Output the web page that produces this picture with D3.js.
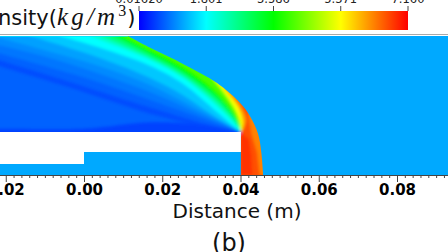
<!DOCTYPE html>
<html>
<head>
<meta charset="utf-8">
<script src="https://cdn.jsdelivr.net/npm/d3@7"></script>
<style>
  html, body { margin: 0; padding: 0; background: #fff; overflow: hidden; }
  svg { display: block; font-family: "DejaVu Sans"; }
  .xaxis path { stroke: #444; }
  .xaxis line { stroke: #444; }
  .xaxis text { font-family: "DejaVu Sans"; font-weight: bold; font-size: 15px; fill: #000; }
</style>
</head>
<body>
<svg id="chart" width="448" height="252"></svg>
<script>
// colorbar values, density in kg/m3
const barTicks = [0.0162, 1.802, 3.588, 5.374, 7.16];
const barLabels = ["0.01620", "1.801", "3.586", "5.371", "7.160"];
const barColors = ["#0000ff", "#00ffff", "#00ff00", "#ffff00", "#ff0000"];

// x axis
const xTicks = [-0.02, 0, 0.02, 0.04, 0.06, 0.08];
const xLabels = ["0.02", "0.00", "0.02", "0.04", "0.06", "0.08"];
const xMinor = [-0.022, -0.018, -0.016, -0.014, -0.012, -0.01, -0.008, -0.006, -0.004, -0.002,
  0.002, 0.004, 0.006, 0.008, 0.01, 0.012, 0.014, 0.016, 0.018,
  0.022, 0.024, 0.026, 0.028, 0.03, 0.032, 0.034, 0.036, 0.038,
  0.042, 0.044, 0.046, 0.048, 0.05, 0.052, 0.054, 0.056, 0.058,
  0.062, 0.064, 0.066, 0.068, 0.07, 0.072, 0.074, 0.076, 0.078,
  0.082, 0.084, 0.086, 0.088, 0.09, 0.092];

// field geometry, [x mm, y mm]
const corner = [40.1, 11];
const shock = [[11.2, 35.5], [16.9, 32.5], [25.3, 28.4], [34, 23.5], [39.9, 18.4], [42.4, 15.1], [44.5, 10.5], [45.3, 5.9], [45.8, 0]];
const body = [[-25, 2.8], [0, 2.8], [0, 5.9], [40.1, 5.9], [40.1, 11], [-25, 11]];
const topEdge = [[-25, 35.45], [11.2, 35.45]];

const freeStream = 1.2;
const topEdgeLevel = 1.6;
const behindShock = 6.6;
const wallLevel = 6.8;
const wallStrip = [[40.1, 11], [42.2, 9], [42.8, 5], [43, 0], [40.1, 0]];
const edgeLevel = 6.25;
const edgeStrip = [[42, 16], [42.8, 10.5], [44.2, 5.9], [44.9, 0], [47, 0], [47, 16]];

// density contours, outermost first, each one ends in the body corner
const contourLevels = [6.03, 5.37, 4.71, 4.1, 3.59, 3.1, 2.7, 2.2, 1.8, 1.41, 1.14, 0.98, 0.84, 0.7, 0.56, 0.7, 0.48];
const contours = [
  [[38, 20.8], [40.6, 16.6], [41.4, 14.1], [40.6, 11.5], [40.1, 11]],
  [[34, 25], [36, 22], [39.4, 17.4], [40.6, 13.5], [40.1, 11]],
  [[30, 27.5], [34, 23.6], [38.6, 17], [40.1, 12.8], [40.1, 11]],
  [[10, 38], [17, 35], [25.3, 30.5], [31, 26.6], [34, 23], [38.9, 15.6], [40.1, 11]],
  [[9.7, 35.8], [16.9, 32], [25.3, 27.6], [34, 21], [39.1, 14.3], [40.1, 11]],
  [[8.5, 35.5], [16.9, 31.2], [25.3, 26.6], [34, 20.2], [39.2, 13.7], [40.1, 11]],
  [[7.2, 35.5], [16.9, 30.7], [25.3, 26.1], [34, 19.4], [39.4, 13], [40.1, 11]],
  [[4.5, 35.5], [16.9, 30], [25.3, 25.4], [34, 18.5], [39.4, 12.5], [40.1, 11]],
  [[1.5, 35.5], [16.9, 29.4], [25.3, 24.8], [34, 17.6], [39.4, 12], [40.1, 11]],
  [[-6.1, 35.5], [4.1, 32.5], [16.9, 27.9], [25.3, 23.3], [34, 16.1], [39.4, 11.5], [40.1, 11]],
  [[-13.8, 35.5], [4.1, 29.9], [16.9, 24.8], [25.3, 20.4], [34, 14.6], [40.1, 11]],
  [[-25, 36], [-8.7, 31.5], [4.1, 27.8], [16.9, 23], [29.6, 16.5], [40.1, 11]],
  [[-25, 34], [-8.7, 29.9], [4.1, 25.8], [16.9, 21.2], [29.6, 15.6], [40.1, 11]],
  [[-25, 32], [-2.3, 25.6], [16.9, 19.2], [40.1, 11]],
  [[-25, 30.4], [-2.3, 23.4], [16.9, 17.3], [29.6, 13.5], [40.1, 11]],
  [[-25, 28.8], [-2.3, 21.9], [16.9, 15.6], [33.5, 11.8], [40.1, 11]],
  [[-25, 11.9], [0, 11.9], [16.9, 13.5], [29.6, 12.8], [40.1, 11]]
];

const svg = d3.select("#chart");
const plotTop = 36, plotBottom = 175;

// 0.00 sits at 84px, 0.02 m is 78.25px
const x = d3.scaleLinear().domain([0, 0.08]).range([84, 397]);
const y = d3.scaleLinear().domain([0, 0.0355]).range([plotBottom, plotBottom - 0.0355 * (313 / 0.08)]);
const color = d3.scaleLinear().domain(barTicks).range(barColors);

const line = d3.line().x(d => x(d[0] / 1000)).y(d => y(d[1] / 1000));
const smooth = d3.line().x(d => x(d[0] / 1000)).y(d => y(d[1] / 1000)).curve(d3.curveCatmullRom);

const defs = svg.append("defs");

defs.append("clipPath").attr("id", "plotClip")
  .append("rect").attr("x", 0).attr("y", plotTop).attr("width", 448).attr("height", plotBottom - plotTop);

// area behind the shock
defs.append("clipPath").attr("id", "shockClip")
  .append("path")
  .attr("d", smooth(shock) + line([[40.1, 0], corner, [-25, 11], [-25, 40], [11.2, 40]]).replace("M", "L") + "Z");

defs.append("filter").attr("id", "soft")
  .attr("x", "-10%").attr("y", "-10%").attr("width", "120%").attr("height", "120%")
  .append("feGaussianBlur").attr("stdDeviation", 1.6);

const grad = defs.append("linearGradient").attr("id", "barGrad");
grad.selectAll("stop").data(barTicks).join("stop")
  .attr("offset", (d, i) => i / (barTicks.length - 1))
  .attr("stop-color", d => color(d));

// the field
const plot = svg.append("g").attr("clip-path", "url(#plotClip)");
plot.append("rect").attr("x", 0).attr("y", plotTop).attr("width", 448).attr("height", plotBottom - plotTop)
  .attr("fill", color(freeStream));

const field = plot.append("g").attr("clip-path", "url(#shockClip)").append("g").attr("filter", "url(#soft)");
field.append("rect").attr("x", -20).attr("y", 20).attr("width", 300).attr("height", 170)
  .attr("fill", color(behindShock));
field.append("path").attr("d", line(edgeStrip) + "Z").attr("fill", color(edgeLevel));
field.append("path").attr("d", line(wallStrip) + "Z").attr("fill", color(wallLevel));

field.selectAll(".contour").data(contours).join("path")
  .attr("class", "contour")
  .attr("fill", (d, i) => color(contourLevels[i]))
  .attr("d", d => {
    // close under the body so the blur leaves no seam on its top face
    const closing = [[37, 8], [-25, 8], [-25, 40], [d[0][0], 40]];
    return smooth(d) + line(closing).replace("M", "L") + "Z";
  });

plot.append("path").attr("d", line(topEdge))
  .attr("fill", "none").attr("stroke", color(topEdgeLevel)).attr("stroke-width", 1.2).attr("stroke-opacity", 0.7);

plot.append("path").attr("d", line(body) + "Z").attr("fill", "#fff");

// frame line above the field
svg.append("line").attr("x1", 0).attr("x2", 448).attr("y1", 34.5).attr("y2", 34.5)
  .attr("stroke", "#aaa").attr("stroke-width", 1);

// x axis
svg.append("g").attr("class", "xaxis")
  .attr("transform", `translate(0,${plotBottom})`)
  .call(d3.axisBottom(x).tickValues(xMinor).tickSize(3).tickFormat(""))
  .call(g => g.select(".domain").remove());
svg.append("g").attr("class", "xaxis")
  .attr("transform", `translate(0,${plotBottom})`)
  .call(d3.axisBottom(x).tickValues(xTicks).tickSize(7).tickPadding(2)
    .tickFormat((d, i) => xLabels[i]))
  .call(g => g.select(".domain").attr("d", "M0,0.5H448"));

svg.append("text").attr("x", 237).attr("y", 218).attr("text-anchor", "middle")
  .attr("font-size", 20).attr("fill", "#111").text("Distance (m)");
svg.append("text").attr("x", 229).attr("y", 251).attr("text-anchor", "middle")
  .attr("font-size", 24).attr("fill", "#111").text("(b)");

// colorbar
const bar = d3.scaleLinear().domain([barTicks[0], barTicks[4]]).range([139, 408]);
svg.append("rect").attr("x", 139).attr("y", 11).attr("width", 269).attr("height", 19)
  .attr("fill", "url(#barGrad)");
const barAxis = svg.append("g").attr("transform", "translate(0,11)");
barAxis.selectAll("line").data(barTicks).join("line")
  .attr("x1", d => bar(d)).attr("x2", d => bar(d)).attr("y1", -5).attr("y2", 0)
  .attr("stroke", "#444");
barAxis.selectAll("text").data(barLabels).join("text")
  .attr("x", (d, i) => bar(barTicks[i])).attr("y", -8).attr("text-anchor", "middle")
  .attr("font-size", 11.5).attr("fill", "#222").text(d => d);

// colorbar title, left end runs off the page
const title = svg.append("text").attr("x", 135.5).attr("y", 25).attr("text-anchor", "end")
  .attr("font-size", 21).attr("fill", "#111");
title.append("tspan").text("Density(");
title.append("tspan").attr("font-family", "Liberation Serif").attr("font-style", "italic")
  .attr("font-size", 25).attr("letter-spacing", 3.2).text("kg/m");
title.append("tspan").attr("font-family", "Liberation Serif").attr("font-size", 16).attr("dy", -9).text("3");
title.append("tspan").attr("dx", 1).attr("dy", 9).text(")");
</script>
</body>
</html>
